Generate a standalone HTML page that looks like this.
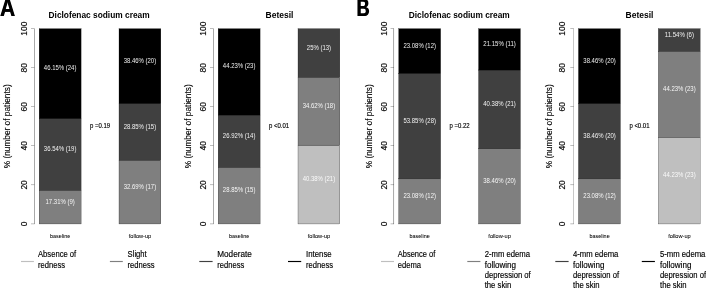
<!DOCTYPE html>
<html lang="en"><head><meta charset="utf-8"><title>Figure</title>
<style>
html,body{margin:0;padding:0;background:#fff;}
body{width:706px;height:288px;overflow:hidden;}
svg{display:block;}
text{font-family:"Liberation Sans",Arial,Helvetica,sans-serif;}
.ax{font-size:8.3px;fill:#000;text-anchor:middle;stroke:#000;stroke-width:0.12px;}
.ti{font-size:8.6px;font-weight:bold;fill:#000;text-anchor:middle;}
.lb{font-size:6.5px;fill:#fff;fill-opacity:0.93;text-anchor:middle;}
.pv{font-size:6.5px;fill:#000;text-anchor:middle;stroke:#000;stroke-width:0.15px;}
.xl{font-size:6.1px;fill:#000;text-anchor:middle;stroke:#000;stroke-width:0.05px;}
.lg{font-size:8.2px;fill:#000;stroke:#000;stroke-width:0.15px;}
.pl{font-size:23px;font-weight:bold;fill:#000;}
.bd{stroke:#000;stroke-width:0.25px;}
</style></head>
<body>
<svg width="706" height="288" viewBox="0 0 706 288">
<rect x="0" y="0" width="706" height="288" fill="#ffffff"/>
<g>
<rect x="34.13" y="28.62" width="0.34" height="195.46" fill="#000"/>
<rect x="31" y="223.82" width="3.4" height="0.26" fill="#000"/>
<text class="ax" style="font-size:8.45px" transform="translate(26.6 223.95) rotate(-90) scale(1 1.08)">0</text>
<rect x="31" y="184.77" width="3.4" height="0.26" fill="#000"/>
<text class="ax" style="font-size:8.45px" transform="translate(26.6 184.9) rotate(-90) scale(1 1.08)">20</text>
<rect x="31" y="145.72" width="3.4" height="0.26" fill="#000"/>
<text class="ax" style="font-size:8.45px" transform="translate(26.6 145.85) rotate(-90) scale(1 1.08)">40</text>
<rect x="31" y="106.67" width="3.4" height="0.26" fill="#000"/>
<text class="ax" style="font-size:8.45px" transform="translate(26.6 106.8) rotate(-90) scale(1 1.08)">60</text>
<rect x="31" y="67.62" width="3.4" height="0.26" fill="#000"/>
<text class="ax" style="font-size:8.45px" transform="translate(26.6 67.75) rotate(-90) scale(1 1.08)">80</text>
<rect x="31" y="28.57" width="3.4" height="0.26" fill="#000"/>
<text class="ax" style="font-size:8.45px" transform="translate(26.6 28.7) rotate(-90) scale(1 1.08)">100</text>
<text class="ax" textLength="84" lengthAdjust="spacingAndGlyphs" transform="translate(10.2 126.3) rotate(-90)">% (number of patients)</text>
<text class="ti" x="99.08" y="18.45" textLength="101" lengthAdjust="spacingAndGlyphs">Diclofenac sodium cream</text>
<rect class="bd" x="39.15" y="190.15" width="41.95" height="33.8" fill="#7f7f7f"/>
<text class="lb" x="60.12" y="203.6" textLength="29.2" lengthAdjust="spacingAndGlyphs">17.31% (9)</text>
<rect class="bd" x="39.15" y="118.81" width="41.95" height="71.34" fill="#404040"/>
<text class="lb" x="60.12" y="151.03" textLength="32.52" lengthAdjust="spacingAndGlyphs">36.54% (19)</text>
<rect class="bd" x="39.15" y="28.7" width="41.95" height="90.11" fill="#000000"/>
<text class="lb" x="60.12" y="70.3" textLength="32.52" lengthAdjust="spacingAndGlyphs">46.15% (24)</text>
<text class="xl" x="60.1" y="237.75" textLength="20.25" lengthAdjust="spacingAndGlyphs">baseline</text>
<rect class="bd" x="119" y="160.12" width="41.85" height="63.83" fill="#7f7f7f"/>
<text class="lb" x="139.93" y="188.59" textLength="32.52" lengthAdjust="spacingAndGlyphs">32.69% (17)</text>
<rect class="bd" x="119" y="103.79" width="41.85" height="56.33" fill="#404040"/>
<text class="lb" x="139.93" y="128.51" textLength="32.52" lengthAdjust="spacingAndGlyphs">28.85% (15)</text>
<rect class="bd" x="119" y="28.7" width="41.85" height="75.09" fill="#000000"/>
<text class="lb" x="139.93" y="62.8" textLength="32.52" lengthAdjust="spacingAndGlyphs">38.46% (20)</text>
<text class="xl" x="140" y="237.75" textLength="22.5" lengthAdjust="spacingAndGlyphs">follow-up</text>
<text class="pv" x="100" y="127.6" textLength="20.08" lengthAdjust="spacingAndGlyphs">p =0.19</text>
</g>
<g>
<rect x="213.13" y="28.62" width="0.34" height="195.46" fill="#000"/>
<rect x="210" y="223.82" width="3.4" height="0.26" fill="#000"/>
<text class="ax" style="font-size:8.45px" transform="translate(205.6 223.95) rotate(-90) scale(1 1.08)">0</text>
<rect x="210" y="184.77" width="3.4" height="0.26" fill="#000"/>
<text class="ax" style="font-size:8.45px" transform="translate(205.6 184.9) rotate(-90) scale(1 1.08)">20</text>
<rect x="210" y="145.72" width="3.4" height="0.26" fill="#000"/>
<text class="ax" style="font-size:8.45px" transform="translate(205.6 145.85) rotate(-90) scale(1 1.08)">40</text>
<rect x="210" y="106.67" width="3.4" height="0.26" fill="#000"/>
<text class="ax" style="font-size:8.45px" transform="translate(205.6 106.8) rotate(-90) scale(1 1.08)">60</text>
<rect x="210" y="67.62" width="3.4" height="0.26" fill="#000"/>
<text class="ax" style="font-size:8.45px" transform="translate(205.6 67.75) rotate(-90) scale(1 1.08)">80</text>
<rect x="210" y="28.57" width="3.4" height="0.26" fill="#000"/>
<text class="ax" style="font-size:8.45px" transform="translate(205.6 28.7) rotate(-90) scale(1 1.08)">100</text>
<text class="ax" textLength="84" lengthAdjust="spacingAndGlyphs" transform="translate(190.7 126.3) rotate(-90)">% (number of patients)</text>
<text class="ti" x="279.47" y="18.45" textLength="27.9" lengthAdjust="spacingAndGlyphs">Betesil</text>
<rect class="bd" x="218.15" y="167.62" width="41.95" height="56.33" fill="#7f7f7f"/>
<text class="lb" x="239.12" y="192.34" textLength="32.52" lengthAdjust="spacingAndGlyphs">28.85% (15)</text>
<rect class="bd" x="218.15" y="115.06" width="41.95" height="52.56" fill="#404040"/>
<text class="lb" x="239.12" y="137.89" textLength="32.52" lengthAdjust="spacingAndGlyphs">26.92% (14)</text>
<rect class="bd" x="218.15" y="28.7" width="41.95" height="86.36" fill="#000000"/>
<text class="lb" x="239.12" y="68.43" textLength="32.52" lengthAdjust="spacingAndGlyphs">44.23% (23)</text>
<text class="xl" x="239.1" y="237.75" textLength="20.25" lengthAdjust="spacingAndGlyphs">baseline</text>
<rect class="bd" x="298" y="145.11" width="41.85" height="78.84" fill="#bfbfbf"/>
<text class="lb" x="318.93" y="181.08" textLength="32.52" lengthAdjust="spacingAndGlyphs">40.38% (21)</text>
<rect class="bd" x="298" y="77.51" width="41.85" height="67.6" fill="#7f7f7f"/>
<text class="lb" x="318.93" y="107.86" textLength="32.52" lengthAdjust="spacingAndGlyphs">34.62% (18)</text>
<rect class="bd" x="298" y="28.7" width="41.85" height="48.81" fill="#404040"/>
<text class="lb" x="318.93" y="49.66" textLength="24.22" lengthAdjust="spacingAndGlyphs">25% (13)</text>
<text class="xl" x="319" y="237.75" textLength="22.5" lengthAdjust="spacingAndGlyphs">follow-up</text>
<text class="pv" x="279" y="127.6" textLength="20.08" lengthAdjust="spacingAndGlyphs">p <0.01</text>
</g>
<g>
<rect x="393.68" y="28.62" width="0.34" height="195.46" fill="#000"/>
<rect x="390.55" y="223.82" width="3.4" height="0.26" fill="#000"/>
<text class="ax" style="font-size:8.45px" transform="translate(386.5 223.95) rotate(-90) scale(1 1.08)">0</text>
<rect x="390.55" y="184.77" width="3.4" height="0.26" fill="#000"/>
<text class="ax" style="font-size:8.45px" transform="translate(386.5 184.9) rotate(-90) scale(1 1.08)">20</text>
<rect x="390.55" y="145.72" width="3.4" height="0.26" fill="#000"/>
<text class="ax" style="font-size:8.45px" transform="translate(386.5 145.85) rotate(-90) scale(1 1.08)">40</text>
<rect x="390.55" y="106.67" width="3.4" height="0.26" fill="#000"/>
<text class="ax" style="font-size:8.45px" transform="translate(386.5 106.8) rotate(-90) scale(1 1.08)">60</text>
<rect x="390.55" y="67.62" width="3.4" height="0.26" fill="#000"/>
<text class="ax" style="font-size:8.45px" transform="translate(386.5 67.75) rotate(-90) scale(1 1.08)">80</text>
<rect x="390.55" y="28.57" width="3.4" height="0.26" fill="#000"/>
<text class="ax" style="font-size:8.45px" transform="translate(386.5 28.7) rotate(-90) scale(1 1.08)">100</text>
<text class="ax" textLength="84" lengthAdjust="spacingAndGlyphs" transform="translate(371.75 126.3) rotate(-90)">% (number of patients)</text>
<text class="ti" x="459.25" y="18.45" textLength="101" lengthAdjust="spacingAndGlyphs">Diclofenac sodium cream</text>
<rect class="bd" x="398.7" y="178.89" width="41.95" height="45.06" fill="#7f7f7f"/>
<text class="lb" x="419.72" y="197.97" textLength="32.52" lengthAdjust="spacingAndGlyphs">23.08% (12)</text>
<rect class="bd" x="398.7" y="73.74" width="41.95" height="105.14" fill="#404040"/>
<text class="lb" x="419.72" y="122.87" textLength="32.52" lengthAdjust="spacingAndGlyphs">53.85% (28)</text>
<rect class="bd" x="398.7" y="28.68" width="41.95" height="45.06" fill="#000000"/>
<text class="lb" x="419.72" y="47.76" textLength="32.52" lengthAdjust="spacingAndGlyphs">23.08% (12)</text>
<text class="xl" x="419.7" y="237.75" textLength="20.25" lengthAdjust="spacingAndGlyphs">baseline</text>
<rect class="bd" x="478.55" y="148.86" width="41.85" height="75.09" fill="#7f7f7f"/>
<text class="lb" x="499.53" y="182.95" textLength="32.52" lengthAdjust="spacingAndGlyphs">38.46% (20)</text>
<rect class="bd" x="478.55" y="70.01" width="41.85" height="78.84" fill="#404040"/>
<text class="lb" x="499.53" y="105.99" textLength="32.52" lengthAdjust="spacingAndGlyphs">40.38% (21)</text>
<rect class="bd" x="478.55" y="28.72" width="41.85" height="41.3" fill="#000000"/>
<text class="lb" x="499.53" y="45.92" textLength="32.52" lengthAdjust="spacingAndGlyphs">21.15% (11)</text>
<text class="xl" x="499.6" y="237.75" textLength="22.5" lengthAdjust="spacingAndGlyphs">follow-up</text>
<text class="pv" x="459.6" y="127.6" textLength="20.08" lengthAdjust="spacingAndGlyphs">p =0.22</text>
</g>
<g>
<rect x="573.43" y="28.62" width="0.22" height="195.46" fill="#000"/>
<rect x="570.3" y="223.82" width="3.4" height="0.26" fill="#000"/>
<text class="ax" style="font-size:8.45px" transform="translate(565.3 223.95) rotate(-90) scale(1 1.08)">0</text>
<rect x="570.3" y="184.77" width="3.4" height="0.26" fill="#000"/>
<text class="ax" style="font-size:8.45px" transform="translate(565.3 184.9) rotate(-90) scale(1 1.08)">20</text>
<rect x="570.3" y="145.72" width="3.4" height="0.26" fill="#000"/>
<text class="ax" style="font-size:8.45px" transform="translate(565.3 145.85) rotate(-90) scale(1 1.08)">40</text>
<rect x="570.3" y="106.67" width="3.4" height="0.26" fill="#000"/>
<text class="ax" style="font-size:8.45px" transform="translate(565.3 106.8) rotate(-90) scale(1 1.08)">60</text>
<rect x="570.3" y="67.62" width="3.4" height="0.26" fill="#000"/>
<text class="ax" style="font-size:8.45px" transform="translate(565.3 67.75) rotate(-90) scale(1 1.08)">80</text>
<rect x="570.3" y="28.57" width="3.4" height="0.26" fill="#000"/>
<text class="ax" style="font-size:8.45px" transform="translate(565.3 28.7) rotate(-90) scale(1 1.08)">100</text>
<text class="ax" textLength="84" lengthAdjust="spacingAndGlyphs" transform="translate(551.55 126.3) rotate(-90)">% (number of patients)</text>
<text class="ti" x="639.47" y="18.45" textLength="27.9" lengthAdjust="spacingAndGlyphs">Betesil</text>
<rect class="bd" x="578.45" y="178.89" width="41.95" height="45.06" fill="#7f7f7f"/>
<text class="lb" x="599.58" y="197.97" textLength="32.52" lengthAdjust="spacingAndGlyphs">23.08% (12)</text>
<rect class="bd" x="578.45" y="103.79" width="41.95" height="75.09" fill="#404040"/>
<text class="lb" x="599.58" y="137.89" textLength="32.52" lengthAdjust="spacingAndGlyphs">38.46% (20)</text>
<rect class="bd" x="578.45" y="28.7" width="41.95" height="75.09" fill="#000000"/>
<text class="lb" x="599.58" y="62.8" textLength="32.52" lengthAdjust="spacingAndGlyphs">38.46% (20)</text>
<text class="xl" x="599.55" y="237.75" textLength="20.25" lengthAdjust="spacingAndGlyphs">baseline</text>
<rect class="bd" x="658.3" y="137.59" width="41.85" height="86.36" fill="#bfbfbf"/>
<text class="lb" x="679.38" y="177.32" textLength="32.52" lengthAdjust="spacingAndGlyphs">44.23% (23)</text>
<rect class="bd" x="658.3" y="51.23" width="41.85" height="86.36" fill="#7f7f7f"/>
<text class="lb" x="679.38" y="90.96" textLength="32.52" lengthAdjust="spacingAndGlyphs">44.23% (23)</text>
<rect class="bd" x="658.3" y="28.7" width="41.85" height="22.53" fill="#404040"/>
<text class="lb" x="679.38" y="36.52" textLength="29.2" lengthAdjust="spacingAndGlyphs">11.54% (6)</text>
<text class="xl" x="679.45" y="237.75" textLength="22.5" lengthAdjust="spacingAndGlyphs">follow-up</text>
<text class="pv" x="639.45" y="127.6" textLength="20.08" lengthAdjust="spacingAndGlyphs">p <0.01</text>
</g>
<rect x="21" y="260.92" width="12.9" height="1.16" fill="#bfbfbf"/>
<text class="lg" x="38" y="257.45" textLength="38.22" lengthAdjust="spacingAndGlyphs">Absence of</text>
<text class="lg" x="38" y="267.55" textLength="27" lengthAdjust="spacingAndGlyphs">redness</text>
<rect x="109.9" y="260.92" width="12.9" height="1.16" fill="#7f7f7f"/>
<text class="lg" x="127.6" y="257.45" textLength="19.11" lengthAdjust="spacingAndGlyphs">Slight</text>
<text class="lg" x="127.6" y="267.55" textLength="27" lengthAdjust="spacingAndGlyphs">redness</text>
<rect x="199.3" y="260.92" width="13.3" height="1.16" fill="#404040"/>
<text class="lg" x="217.25" y="257.45" textLength="34.56" lengthAdjust="spacingAndGlyphs">Moderate</text>
<text class="lg" x="217.25" y="267.55" textLength="27" lengthAdjust="spacingAndGlyphs">redness</text>
<rect x="288" y="260.92" width="13.2" height="1.16" fill="#000000"/>
<text class="lg" x="306" y="257.45" textLength="25.7" lengthAdjust="spacingAndGlyphs">Intense</text>
<text class="lg" x="306" y="267.55" textLength="27" lengthAdjust="spacingAndGlyphs">redness</text>
<rect x="381" y="260.92" width="13" height="1.16" fill="#bfbfbf"/>
<text class="lg" x="397.75" y="257.45" textLength="37.55" lengthAdjust="spacingAndGlyphs">Absence of</text>
<text class="lg" x="397.75" y="267.55" textLength="23.37" lengthAdjust="spacingAndGlyphs">edema</text>
<rect x="467.3" y="260.92" width="13.1" height="1.16" fill="#7f7f7f"/>
<text class="lg" x="484.7" y="257.45" textLength="45.39" lengthAdjust="spacingAndGlyphs">2-mm edema</text>
<text class="lg" x="484.7" y="267.55" textLength="31.37" lengthAdjust="spacingAndGlyphs">following</text>
<text class="lg" x="484.7" y="277.65" textLength="46.06" lengthAdjust="spacingAndGlyphs">depression of</text>
<text class="lg" x="484.7" y="287.75" textLength="26.59" lengthAdjust="spacingAndGlyphs">the skin</text>
<rect x="555.3" y="260.92" width="13.3" height="1.16" fill="#404040"/>
<text class="lg" x="573" y="257.45" textLength="45.39" lengthAdjust="spacingAndGlyphs">4-mm edema</text>
<text class="lg" x="573" y="267.55" textLength="31.37" lengthAdjust="spacingAndGlyphs">following</text>
<text class="lg" x="573" y="277.65" textLength="46.06" lengthAdjust="spacingAndGlyphs">depression of</text>
<text class="lg" x="573" y="287.75" textLength="26.59" lengthAdjust="spacingAndGlyphs">the skin</text>
<rect x="641.8" y="260.92" width="13.1" height="1.16" fill="#000000"/>
<text class="lg" x="660" y="257.45" textLength="45.39" lengthAdjust="spacingAndGlyphs">5-mm edema</text>
<text class="lg" x="660" y="267.55" textLength="31.37" lengthAdjust="spacingAndGlyphs">following</text>
<text class="lg" x="660" y="277.65" textLength="46.06" lengthAdjust="spacingAndGlyphs">depression of</text>
<text class="lg" x="660" y="287.75" textLength="26.59" lengthAdjust="spacingAndGlyphs">the skin</text>
<text id="pa" class="pl" style="font-size:24.5px" transform="translate(-0.2 15.7) scale(0.86 1)">A</text>
<use href="#pa" x="0.5"/>
<text id="pb" class="pl" style="font-size:23.4px" transform="translate(356.2 15.75) scale(0.765 1)">B</text>
<use href="#pb" x="0.7"/>
</svg>
</body></html>
